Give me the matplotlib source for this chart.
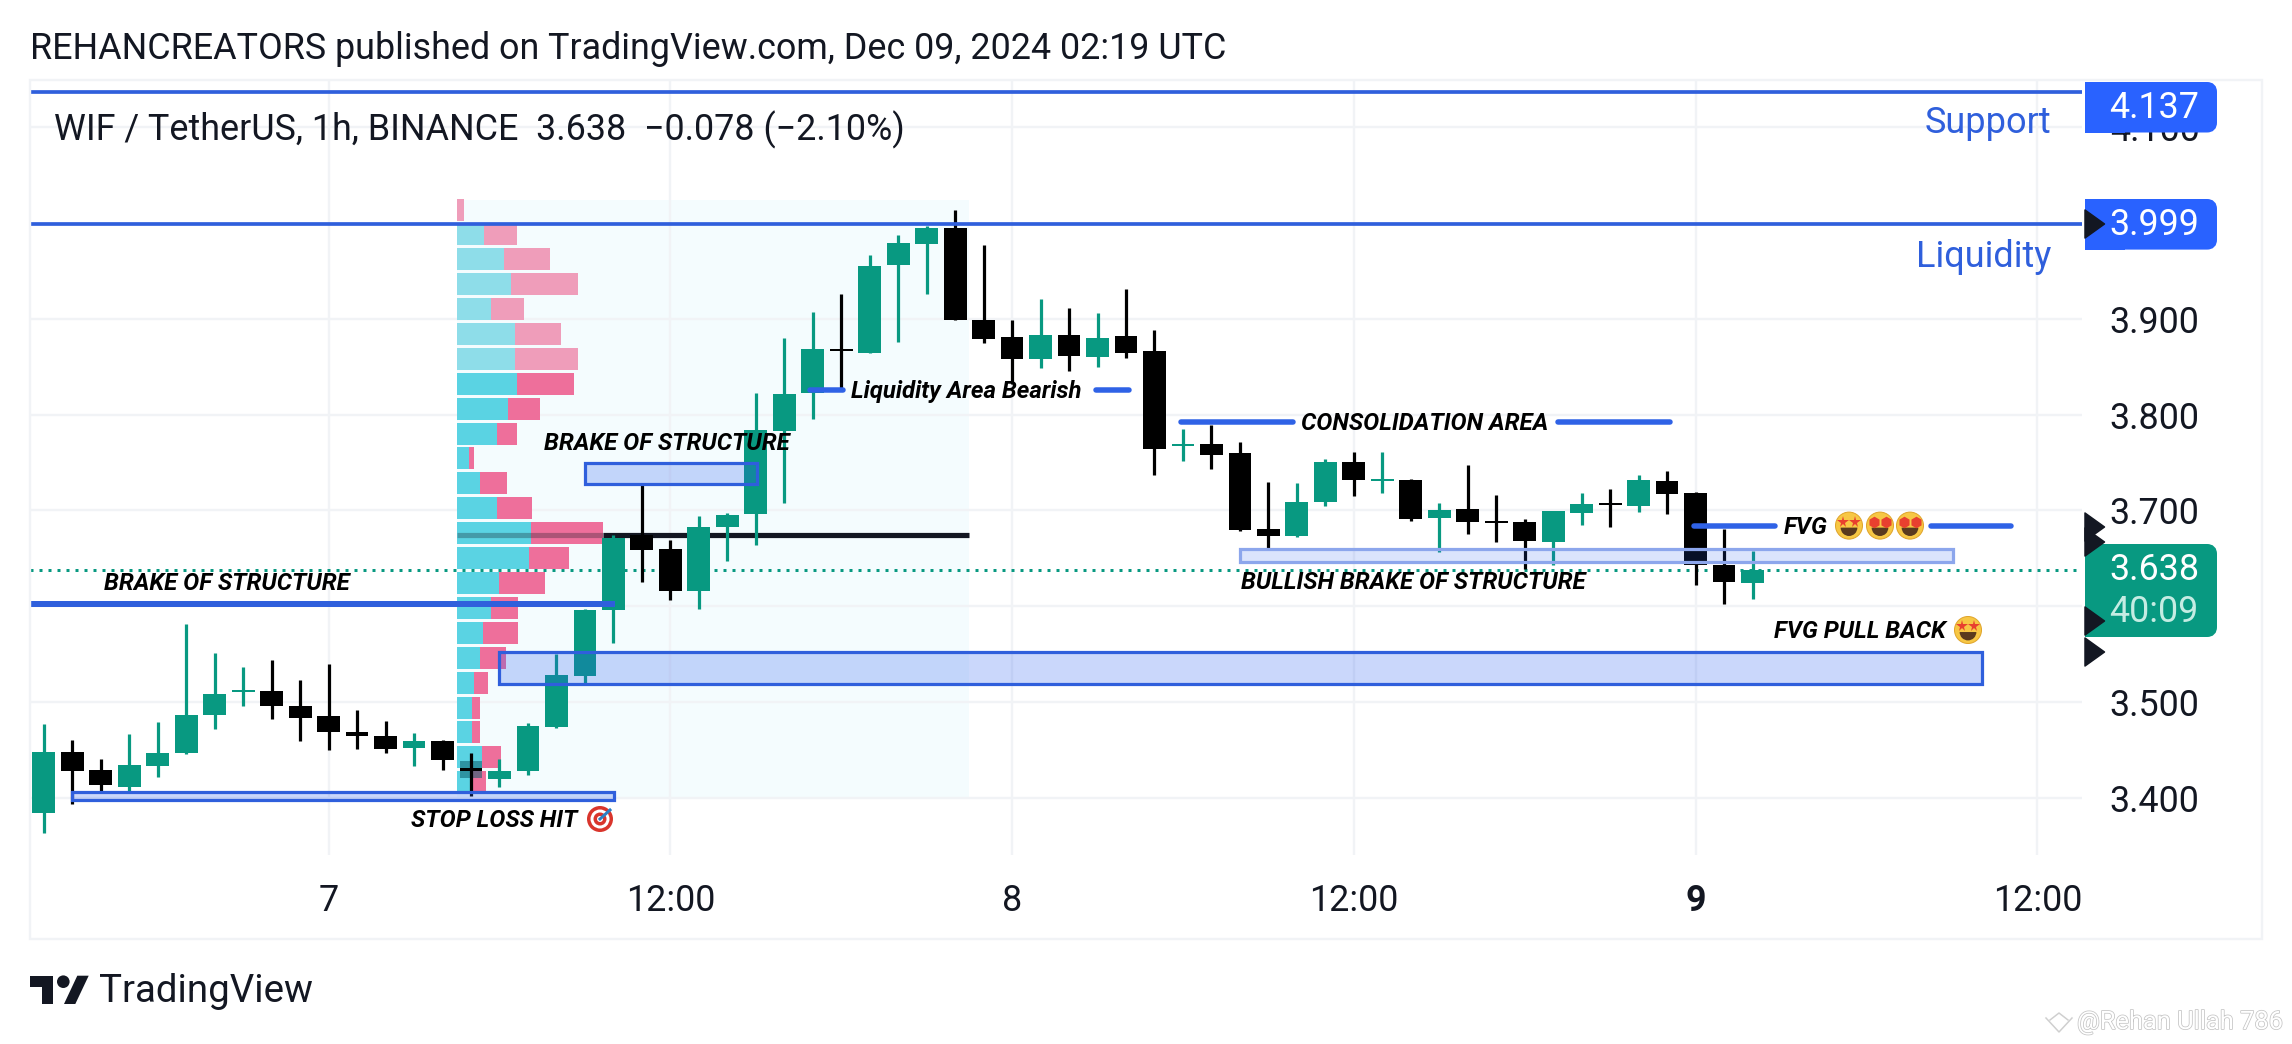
import matplotlib
matplotlib.use('Agg')
import matplotlib.pyplot as plt
import matplotlib.patches as mpatches
import matplotlib.patheffects as pe
from matplotlib.transforms import blended_transform_factory

W, H = 2292, 1044
plt.rcParams['font.family'] = ['Roboto', 'DejaVu Sans']

# hourly candles, hours counted from Dec 7 00:00
hours = list(range(-10, 51))
opens = [3.384, 3.448, 3.429, 3.411, 3.433, 3.447, 3.486, 3.510, 3.512, 3.496,
         3.485, 3.469, 3.464, 3.452, 3.459, 3.431, 3.420, 3.428, 3.474, 3.527,
         3.596, 3.674, 3.660, 3.616, 3.683, 3.696, 3.783, 3.823, 3.868, 3.864,
         3.956, 3.978, 3.995, 3.899, 3.881, 3.858, 3.883, 3.860, 3.882, 3.866,
         3.767, 3.769, 3.760, 3.681, 3.673, 3.709, 3.751, 3.731, 3.732, 3.692,
         3.701, 3.689, 3.688, 3.667, 3.697, 3.708, 3.705, 3.731, 3.718, 3.643, 3.624]
closes = [3.448, 3.428, 3.413, 3.434, 3.447, 3.486, 3.508, 3.513, 3.496, 3.483,
          3.469, 3.464, 3.451, 3.459, 3.439, 3.428, 3.428, 3.475, 3.528, 3.596,
          3.671, 3.659, 3.616, 3.683, 3.695, 3.784, 3.822, 3.868, 3.866, 3.955,
          3.979, 3.995, 3.899, 3.879, 3.858, 3.883, 3.861, 3.880, 3.864, 3.764,
          3.769, 3.758, 3.680, 3.673, 3.709, 3.751, 3.732, 3.733, 3.691, 3.700,
          3.688, 3.687, 3.668, 3.699, 3.707, 3.706, 3.732, 3.717, 3.643, 3.625, 3.638]
highs = [3.477, 3.460, 3.441, 3.467, 3.479, 3.581, 3.551, 3.537, 3.544, 3.523,
         3.540, 3.492, 3.480, 3.468, 3.460, 3.447, 3.441, 3.478, 3.550, 3.597,
         3.674, 3.728, 3.669, 3.694, 3.697, 3.823, 3.880, 3.907, 3.926, 3.967,
         3.988, 3.997, 4.014, 3.977, 3.899, 3.921, 3.911, 3.906, 3.931, 3.888,
         3.785, 3.789, 3.771, 3.730, 3.729, 3.754, 3.761, 3.761, 3.733, 3.708,
         3.747, 3.716, 3.691, 3.699, 3.718, 3.722, 3.737, 3.741, 3.719, 3.681, 3.658]
lows = [3.363, 3.394, 3.406, 3.406, 3.422, 3.446, 3.472, 3.496, 3.482, 3.459,
        3.450, 3.451, 3.447, 3.433, 3.429, 3.402, 3.411, 3.424, 3.473, 3.520,
        3.562, 3.625, 3.606, 3.597, 3.647, 3.664, 3.708, 3.795, 3.827, 3.864,
        3.876, 3.926, 3.899, 3.875, 3.832, 3.849, 3.846, 3.850, 3.859, 3.737,
        3.752, 3.743, 3.678, 3.659, 3.672, 3.705, 3.715, 3.718, 3.689, 3.657,
        3.675, 3.667, 3.639, 3.643, 3.685, 3.683, 3.698, 3.696, 3.622, 3.602, 3.608]

# visible range volume profile
vp_levels = [4.0139, 3.9883, 3.9625, 3.9362, 3.9104, 3.8841, 3.8583, 3.8320,
             3.8060, 3.7800, 3.7544, 3.7288, 3.7025, 3.6762, 3.6502, 3.6242,
             3.5979, 3.5718, 3.5458, 3.5200, 3.4937, 3.4684, 3.4425, 3.4170]
vp_up = [0.00, 0.95, 1.65, 1.89, 1.22, 2.06, 2.03, 2.11, 1.79, 1.42, 0.42, 0.83,
         1.40, 2.62, 2.52, 1.50, 1.19, 0.93, 0.83, 0.59, 0.52, 0.52, 0.90, 0.52]
vp_down = [0.27, 1.17, 1.63, 2.38, 1.15, 1.60, 2.23, 2.02, 1.13, 0.70, 0.20, 0.95,
           1.25, 2.52, 1.42, 1.60, 0.97, 1.23, 0.89, 0.49, 0.30, 0.30, 0.66, 0.52]
vp_faded = [True] * 7 + [False] * 17
vp_start, vp_end = 4.5, 22.5
vp_bottom, vp_top = 3.40, 4.0245
poc_price = 3.6744

y_ticks = [4.1, 3.9, 3.8, 3.7, 3.6, 3.5, 3.4]
x_ticks = [0, 12, 24, 36, 48, 60]
x_labels = ['7', '12:00', '8', '12:00', '9', '12:00']

support, liquidity, last_price = 4.137, 3.999, 3.638

BLUE = '#2f5fdc'
GREEN = '#089981'
DARK = '#131722'
GRID = '#f1f3f6'


def lw(px):
    return px * 0.72


fig = plt.figure(figsize=(W / 100, H / 100), dpi=100, facecolor='white')
ax = fig.add_axes([30 / W, 1 - 855 / H, 2052 / W, 775 / H])
ax.set_xlim(-10.485, 61.57)
ax.set_ylim(3.3403, 4.1493)
for s in ax.spines.values():
    s.set_visible(False)
ax.set_axisbelow(True)
ax.grid(True, color=GRID, lw=lw(2.4))
ax.yaxis.tick_right()
ax.set_yticks(y_ticks, [f'{v:.3f}' for v in y_ticks])
ax.set_xticks(x_ticks, x_labels)
ax.tick_params(axis='both', length=0, labelsize=25.8, labelcolor=DARK)
ax.tick_params(axis='y', pad=20)
ax.tick_params(axis='x', pad=20)
ax.get_xticklabels()[4].set_fontweight('bold')

# volume profile block
ax.add_patch(mpatches.Rectangle((vp_start, vp_bottom), vp_end - vp_start, vp_top - vp_bottom,
                                facecolor='#f4fcfe', edgecolor='none', zorder=0.5))
for level, up, down, faded in zip(vp_levels, vp_up, vp_down, vp_faded):
    ax.barh(level, up, left=vp_start, height=0.0226,
            color='#8edde9' if faded else '#5ad3e3', zorder=1)
    ax.barh(level, down, left=vp_start + up, height=0.0226,
            color='#ef9dba' if faded else '#ee6f9b', zorder=1)
poc_left = vp_start + vp_up[13] + vp_down[13]
ax.plot([poc_left, vp_end], [poc_price, poc_price], color=DARK, lw=lw(5.2),
        solid_capstyle='butt', zorder=1.5)
ax.plot([vp_start, poc_left], [poc_price, poc_price], color=DARK, alpha=0.3, lw=lw(5.2),
        solid_capstyle='butt', zorder=1.5)

# candles
for h, o, c, hi, lo in zip(hours, opens, closes, highs, lows):
    col = GREEN if c >= o else '#000000'
    ax.vlines(h, lo, hi, color=col, lw=lw(3.2), zorder=3)
    ax.bar(h, max(abs(c - o), 0.002), bottom=min(o, c), width=0.8, color=col, zorder=3)

# darker patch seen around the doji at the profile's left edge
ax.bar(5, 3.4389 - 3.4208, bottom=3.4208, width=0.8, color='#0b5f6e', alpha=0.55, zorder=2.5)

# horizontal levels
ax.axhline(support, color=BLUE, lw=lw(3.7), zorder=4)
ax.axhline(liquidity, color=BLUE, lw=lw(3.7), zorder=4)
ax.axhline(last_price, color=GREEN, lw=lw(3), ls=(0, (1, 2)), zorder=2)
ax.plot([-10.485, 10.06], [3.602, 3.602], color=BLUE, lw=lw(6), solid_capstyle='butt', zorder=4)


def zone(x0, x1, p0, p1, edge=BLUE, alpha=0.25, ew=3.2):
    ax.add_patch(mpatches.Rectangle((x0, p0), x1 - x0, p1 - p0, facecolor=(0.18, 0.38, 0.94, alpha),
                                    edgecolor=edge, lw=lw(ew), zorder=4))


zone(-9.01, 10.03, 3.3973, 3.4059)
zone(9.0, 15.04, 3.7274, 3.749)
zone(5.99, 58.05, 3.5191, 3.5526)
zone(32.0, 57.03, 3.6458, 3.6593, edge='#8ca6ec', alpha=0.17)

# text with flanking strokes
for x0, x1, p in [(16.92, 18.06, 3.826), (26.94, 28.09, 3.826), (29.92, 33.88, 3.792),
                  (43.17, 47.11, 3.792), (47.95, 50.78, 3.6837), (56.27, 59.08, 3.6837)]:
    ax.plot([x0, x1], [p, p], color='#2f62e6', lw=lw(5.5), solid_capstyle='round', zorder=5)

note = dict(fontsize=17.3, fontweight='bold', fontstyle='italic', color='#000000',
            ha='center', va='center', zorder=6)
ax.text(-3.58, 3.6237, 'BRAKE OF STRUCTURE', **note)
ax.text(11.89, 3.7695, 'BRAKE OF STRUCTURE', **note)
ax.text(5.82, 3.3768, 'STOP LOSS HIT', **note)
ax.text(22.4, 3.8245, 'Liquidity Area Bearish', **note)
ax.text(38.5, 3.7905, 'CONSOLIDATION AREA', **note)
ax.text(38.08, 3.6245, 'BULLISH BRAKE OF STRUCTURE', **note)
ax.text(51.85, 3.6825, 'FVG', **note)
ax.text(53.77, 3.5733, 'FVG PULL BACK', **note)

trans = blended_transform_factory(fig.transFigure, ax.transData)
ax.text(2051 / W, 4.1040, 'Support', color=BLUE, fontsize=26, ha='right', va='center',
        transform=trans, zorder=6)
ax.text(2051 / W, 3.9645, 'Liquidity', color=BLUE, fontsize=26, ha='right', va='center',
        transform=trans, zorder=6)

# overlay in pixel coordinates for the chrome around the chart
ov = fig.add_axes([0, 0, 1, 1], zorder=10)
ov.set_xlim(0, W)
ov.set_ylim(H, 0)
ov.axis('off')
ov.patch.set_alpha(0)

ov.add_patch(mpatches.Rectangle((30, 80), 2232, 858.7, fill=False, edgecolor=GRID, lw=lw(2.4)))
ov.text(30, 49, 'REHANCREATORS published on TradingView.com, Dec 09, 2024 02:19 UTC',
        fontsize=25.8, color=DARK, va='center')
ov.text(54, 130, 'WIF / TetherUS, 1h, BINANCE  3.638  \u22120.078 (\u22122.10%)',
        fontsize=25.8, color=DARK, va='center')


def price_box(y0, y1, col):
    ov.add_patch(mpatches.FancyBboxPatch((2100, y0 + 5), 112, y1 - y0 - 10,
                                         boxstyle='round,pad=0,rounding_size=5', mutation_aspect=1,
                                         facecolor=col, edgecolor=col, lw=lw(10)))
    ov.add_patch(mpatches.Rectangle((2085, y0), 40, y1 - y0, facecolor=col, edgecolor='none'))


price_box(82, 132.5, '#2962ff')
price_box(199, 249.6, '#2962ff')
price_box(544, 637, GREEN)
label = dict(fontsize=25.8, ha='center', va='center')
ov.text(2154, 108, '4.137', color='white', **label)
ov.text(2154, 225, '3.999', color='white', **label)
ov.text(2154, 570, '3.638', color='white', **label)
ov.text(2154, 612, '40:09', color='#c5ece3', **label)

for y in [224, 527, 542, 621, 652]:
    ov.add_patch(mpatches.Polygon([(2085, y - 14), (2104.5, y), (2085, y + 14)],
                                  closed=True, facecolor=DARK, edgecolor=DARK,
                                  lw=lw(1.5), joinstyle='round'))


def face(cx, cy, star=False, r=13.5):
    ov.add_patch(mpatches.Circle((cx, cy), r, facecolor='#f7c744', edgecolor='#e0a52c', lw=lw(1)))
    for dx in (-0.42, 0.42):
        ov.plot(cx + dx * r, cy - 0.28 * r, marker='*' if star else 'h', ms=r * 0.62,
                color='#e8402f', mew=0)
    ov.add_patch(mpatches.Wedge((cx, cy + 0.15 * r), 0.62 * r, 0, 180, facecolor='#5a3a1e', edgecolor='none'))


face(1849, 525.6, star=True)
face(1880, 525.6)
face(1910, 525.6)
face(1968, 630, star=True)

# target emoji next to the stop loss note
for rad, col in [(13, '#d9352c'), (9.5, 'white'), (6.5, '#d9352c'), (3, 'white')]:
    ov.add_patch(mpatches.Circle((600, 819), rad, facecolor=col, edgecolor='none'))
ov.plot([600, 610], [819, 810], color='#2b7fc4', lw=lw(3))

# TradingView logo
ov.add_patch(mpatches.Polygon([(30, 975.7), (53.3, 975.7), (53.3, 1004), (41.7, 1004),
                               (41.7, 986.7), (30, 986.7)], facecolor=DARK, edgecolor='none'))
ov.add_patch(mpatches.Circle((63.3, 981.7), 6.3, facecolor=DARK, edgecolor='none'))
ov.add_patch(mpatches.Polygon([(77.3, 975.7), (88.7, 975.7), (75.3, 1004), (64, 1004)],
                              facecolor=DARK, edgecolor='none'))
ov.text(99, 992, 'TradingView', fontsize=27.7, color=DARK, va='center')

# watermark
stroke = [pe.Stroke(linewidth=1.1, foreground='#c4c4c4'), pe.Normal()]
ov.text(2077, 1022, '@Rehan Ullah 786', fontsize=18.3, color='white', va='center', path_effects=stroke)
ov.plot([2046, 2059, 2072], [1018, 1032, 1018], color='#cfcfcf', lw=lw(1.5))
ov.plot([2050, 2059, 2068], [1020, 1013, 1020], color='#cfcfcf', lw=lw(1.5))

fig.savefig('out.png', dpi=100)
